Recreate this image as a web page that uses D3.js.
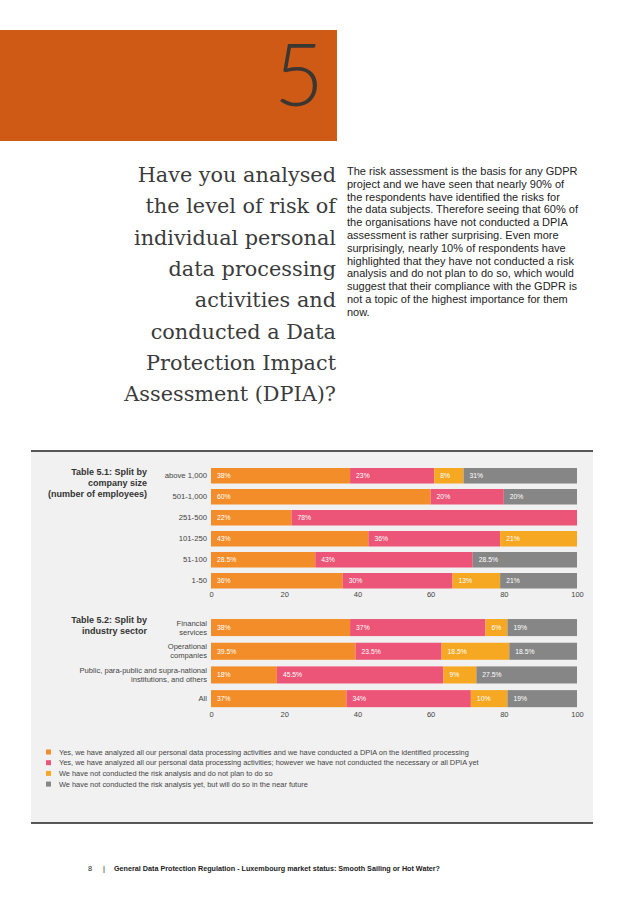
<!DOCTYPE html>
<html>
<head>
<meta charset="utf-8">
<title>DPIA split</title>
<script src="https://d3js.org/d3.v7.min.js"></script>
<style>
body { margin: 0; background: #fff; }
text { font-family: "Liberation Sans", Arial, sans-serif; }
.serif { font-family: "DejaVu Serif", serif; }
</style>
</head>
<body>
<script>
// answers, in stack order
var answerKeys = ["dpia", "noDpia", "noPlan", "willDo"];
var answerColors = ["#F28D2A", "#EC5577", "#F7A823", "#868686"];
var answerLabels = [
  "Yes, we have analyzed all our personal data processing activities and we have conducted a DPIA on the identified processing",
  "Yes, we have analyzed all our personal data processing activities; however we have not conducted the necessary or all DPIA yet",
  "We have not conducted the risk analysis and do not plan to do so",
  "We have not conducted the risk analysis yet, but will do so in the near future"
];

// Table 5.1 - company size
var sizeCategories = ["above 1,000", "501-1,000", "251-500", "101-250", "51-100", "1-50"];
var sizeDpia   = [38, 60, 22, 43, 28.5, 36];
var sizeNoDpia = [23, 20, 78, 36, 43, 30];
var sizeNoPlan = [8, 0, 0, 21, 0, 13];
var sizeWillDo = [31, 20, 0, 0, 28.5, 21];

// Table 5.2 - industry sector
var sectorCategories = [
  ["Financial", "services"],
  ["Operational", "companies"],
  ["Public, para-public and supra-national", "institutions, and others"],
  ["All"]
];
var sectorDpia   = [38, 39.5, 18, 37];
var sectorNoDpia = [37, 23.5, 45.5, 34];
var sectorNoPlan = [6, 18.5, 9, 10];
var sectorWillDo = [19, 18.5, 27.5, 19];

var xTicks = [0, 20, 40, 60, 80, 100];

var headingLines = ["Have you analysed", "the level of risk of", "individual personal",
  "data processing", "activities and", "conducted a Data", "Protection Impact", "Assessment (DPIA)?"];
var paraLines = [
  "The risk assessment is the basis for any GDPR",
  "project and we have seen that nearly 90% of",
  "the respondents have identified the risks for",
  "the data subjects. Therefore seeing that 60% of",
  "the organisations have not conducted a DPIA",
  "assessment is rather surprising. Even more",
  "surprisingly, nearly 10% of respondents have",
  "highlighted that they have not conducted a risk",
  "analysis and do not plan to do so, which would",
  "suggest that their compliance with the GDPR is",
  "not a topic of the highest importance for them",
  "now."
];

var svg = d3.select("body").append("svg")
  .attr("width", 638).attr("height", 903);

// orange chapter banner
svg.append("rect").attr("x", 0).attr("y", 30).attr("width", 337).attr("height", 111)
  .attr("fill", "#CF5A16");
svg.append("text").attr("x", 324).attr("y", 106).attr("text-anchor", "end")
  .style("font-family", "Lato, 'Open Sans', sans-serif").style("font-weight", 300)
  .attr("font-size", 86).attr("fill", "#3a3632").text("5");

// heading
svg.append("g").selectAll("text").data(headingLines).join("text")
  .attr("class", "serif")
  .attr("x", 336).attr("y", function(d, i) { return 182 + i * 31.3; })
  .attr("text-anchor", "end").attr("font-size", 20.8).attr("fill", "#3b3b3b")
  .text(function(d) { return d; });

// paragraph
svg.append("g").selectAll("text").data(paraLines).join("text")
  .attr("x", 347).attr("y", function(d, i) { return 175 + i * 12.8; })
  .attr("font-size", 11).attr("fill", "#222")
  .text(function(d) { return d; });

// grey panel
svg.append("rect").attr("x", 31).attr("y", 451).attr("width", 562).attr("height", 372)
  .attr("fill", "#F1F1F1");
svg.append("line").attr("x1", 31).attr("x2", 593).attr("y1", 451).attr("y2", 451)
  .attr("stroke", "#222").attr("stroke-width", 1.3);
svg.append("line").attr("x1", 31).attr("x2", 593).attr("y1", 823).attr("y2", 823)
  .attr("stroke", "#222").attr("stroke-width", 1.3);

var x = d3.scaleLinear().domain([0, 100]).range([211, 577]);
var fmt = function(v) { return v + "%"; };

function drawChart(cats, series, yRange, pad, axisY, titleLines, titleY) {
  var rows = cats.map(function(c, i) {
    var r = { cat: i };
    answerKeys.forEach(function(k, j) { r[k] = series[j][i]; });
    return r;
  });
  var y = d3.scaleBand().domain(d3.range(cats.length)).range(yRange).padding(pad);
  var stacked = d3.stack().keys(answerKeys)(rows);
  var g = svg.append("g");

  var layer = g.selectAll("g.layer").data(stacked).join("g")
    .attr("fill", function(d, i) { return answerColors[i]; });
  layer.selectAll("rect").data(function(d) { return d.filter(function(s) { return s[1] > s[0]; }); })
    .join("rect")
    .attr("x", function(s) { return x(s[0]); })
    .attr("width", function(s) { return x(s[1]) - x(s[0]); })
    .attr("y", function(s) { return y(s.data.cat); })
    .attr("height", y.bandwidth());
  layer.selectAll("text").data(function(d) { return d.filter(function(s) { return s[1] > s[0]; }); })
    .join("text")
    .attr("x", function(s) { return x(s[0]) + 6; })
    .attr("y", function(s) { return y(s.data.cat) + y.bandwidth() / 2; })
    .attr("dy", "0.35em").attr("font-size", 6.8).attr("fill", "#fff")
    .text(function(s) { return fmt(s[1] - s[0]); });

  // category labels
  cats.forEach(function(c, i) {
    var lines = Array.isArray(c) ? c : [c];
    var cy = y(i) + y.bandwidth() / 2;
    lines.forEach(function(l, k) {
      g.append("text").attr("x", 207)
        .attr("y", cy + (k - (lines.length - 1) / 2) * 9)
        .attr("dy", "0.35em").attr("text-anchor", "end")
        .attr("font-size", Array.isArray(c) ? 7.6 : 7.7).attr("fill", "#444").text(l);
    });
  });

  // axis
  var ax = g.append("g").attr("transform", "translate(0," + axisY + ")")
    .call(d3.axisBottom(x).tickValues(xTicks).tickSize(0).tickPadding(3));
  ax.select(".domain").remove();
  ax.selectAll("text").attr("font-size", 7.5).attr("fill", "#444")
    .style("font-family", "'Liberation Sans', Arial, sans-serif");

  // title
  titleLines.forEach(function(l, k) {
    g.append("text").attr("x", 147).attr("y", titleY + k * 11)
      .attr("dy", "0.35em").attr("text-anchor", "end")
      .attr("font-size", 9).attr("font-weight", "bold").attr("fill", "#333").text(l);
  });
}

drawChart(sizeCategories, [sizeDpia, sizeNoDpia, sizeNoPlan, sizeWillDo],
  [462.5, 594], 0.262, 589, ["Table 5.1: Split by", "company size", "(number of employees)"], 472);
drawChart(sectorCategories, [sectorDpia, sectorNoDpia, sectorNoPlan, sectorWillDo],
  [612.4, 713.8], 0.28, 709, ["Table 5.2: Split by", "industry sector"], 620);

// legend
var leg = svg.append("g").selectAll("g").data(answerLabels).join("g")
  .attr("transform", function(d, i) { return "translate(46," + (752 + i * 10.7) + ")"; });
leg.append("rect").attr("x", 0).attr("y", -2.5).attr("width", 5).attr("height", 5)
  .attr("fill", function(d, i) { return answerColors[i]; });
leg.append("text").attr("x", 13).attr("dy", "0.35em").attr("font-size", 7.4)
  .attr("fill", "#444").text(function(d) { return d; });

// footer
var foot = svg.append("g").attr("font-size", 7.4).attr("fill", "#222");
foot.append("text").attr("x", 88).attr("y", 871).text("8");
foot.append("text").attr("x", 103).attr("y", 871).text("|");
foot.append("text").attr("x", 114).attr("y", 871).attr("font-weight", "bold")
  .attr("textLength", 326).attr("lengthAdjust", "spacingAndGlyphs")
  .text("General Data Protection Regulation - Luxembourg market status: Smooth Sailing or Hot Water?");
</script>
</body>
</html>
